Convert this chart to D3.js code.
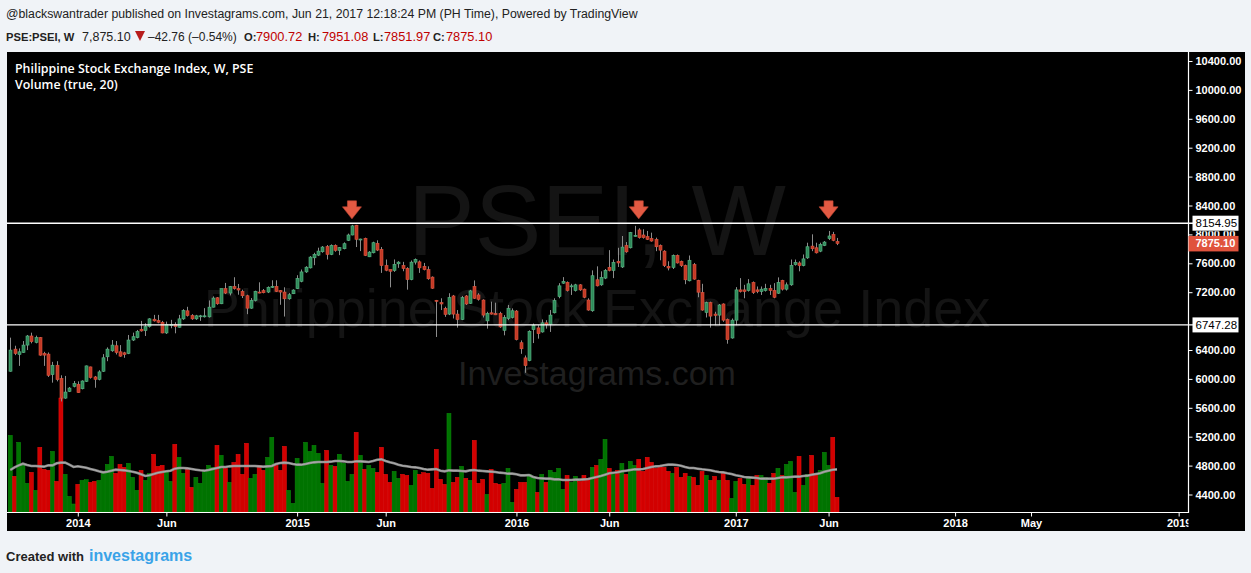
<!DOCTYPE html>
<html><head><meta charset="utf-8">
<script src="https://cdn.jsdelivr.net/npm/d3@7"></script>
<style>
html,body{margin:0;padding:0;background:#f0f3f7;}
svg{display:block;}
text{white-space:pre;}
</style></head><body>
<svg id="c" width="1251" height="573"></svg>
<script>
// ---------- DATA (weekly bars, PSE:PSEI) ----------
const firstWeek = "2013-09-16";
const lastWeek = "2017-06-19";
const opens = [6106,6412,6338,6366,6468,6594,6505,6571,6352,6343,6059,6189,6004,5734,5827,5897,5925,5864,5966,6166,
6027,5994,6106,6306,6389,6459,6375,6361,6352,6538,6571,6687,6668,6724,6826,6807,6784,6636,6738,6756,
6715,6831,6942,6877,6831,6863,6863,6859,6993,7123,7040,7249,7188,7277,7249,7212,7151,6979,7086,7202,
7221,7202,7268,7281,7221,7202,7109,7179,7249,7351,7481,7537,7676,7713,7760,7830,7723,7848,7778,7802,
7918,7992,8127,7927,7946,7690,7746,7876,7793,7569,7514,7500,7593,7569,7528,7374,7616,7620,7558,7512,
7409,7088,7055,6976,6897,7148,6897,6822,7148,7046,7279,7162,7092,6803,6915,6906,6906,6673,6836,6850,
6939,6501,6291,6254,6682,6706,6650,6776,6757,6915,7139,7325,7335,7279,7223,7302,7242,7092,6943,7372,
7302,7395,7544,7502,7628,7549,7847,7815,7978,8062,7992,7969,7945,7931,7847,7768,7558,7544,7708,7628,
7568,7358,7582,7363,7195,6920,7055,6897,6883,7037,6822,6566,6813,7232,7232,7223,7335,7232,7209,7223,
7251,7223,7186,7363,7242,7302,7582,7605,7568,7675,7838,7815,7768,7847,7941,8000,7900.72];
const highs = [6571,6459,6422,6524,6608,6640,6599,6580,6375,6366,6236,6245,6050,6041,5887,5971,5966,5980,6185,6170,
6041,6120,6343,6436,6538,6524,6468,6375,6608,6640,6677,6803,6770,6840,6886,6886,6803,6793,6817,6784,
6886,6965,6998,6896,6886,6886,6979,7086,7142,7133,7249,7328,7286,7407,7314,7235,7165,7119,7221,7337,
7244,7281,7365,7365,7230,7268,7188,7240,7435,7514,7560,7700,7746,7816,7839,7853,7862,7862,7825,7890,
8011,8132,8132,7941,7955,7769,7899,7918,7825,7653,7514,7653,7630,7620,7546,7639,7667,7639,7605,7558,
7419,7093,7116,6999,7186,7162,6953,7148,7162,7232,7363,7186,7102,6929,7069,7055,6929,6883,7023,6976,
6953,6533,6324,6673,6766,6743,6822,6813,6953,7116,7325,7409,7349,7316,7316,7312,7251,7116,7502,7558,
7489,7521,7782,7652,7815,7978,7894,8034,8118,8085,8071,8048,8024,7955,7861,7782,7628,7722,7722,7638,
7582,7708,7605,7372,7316,7069,7069,6929,7037,7046,6836,6836,7270,7395,7302,7381,7349,7279,7279,7316,
7302,7325,7405,7372,7335,7652,7652,7628,7722,7885,8001,7885,7885,7908,8048,8035,7951.08];
const lows = [6100,6329,6180,6360,6399,6492,6492,6320,6180,6027,5948,5966,5688,5725,5818,5883,5805,5855,5957,6004,
5878,5980,6097,6245,6375,6338,6306,6292,6343,6524,6561,6654,6594,6710,6793,6770,6631,6622,6701,6631,
6710,6817,6863,6817,6817,6803,6849,6849,6989,7026,7035,7174,7156,7235,7165,7119,6896,6970,7072,7184,
7184,7188,7258,7202,7026,6863,7095,7174,7244,7337,7467,7528,7574,7700,7746,7653,7713,7760,7713,7793,
7908,7987,7825,7769,7700,7686,7737,7769,7467,7490,7267,7481,7537,7490,7235,7365,7583,7467,7502,7372,
7246,6580,6953,6859,6883,6836,6710,6813,7023,7037,7106,7083,6850,6696,6890,6883,6706,6603,6813,6836,
6533,6347,6084,6244,6496,6557,6640,6696,6650,6906,7116,7316,7209,7162,7209,7218,7116,6943,6929,7279,
7288,7381,7488,7395,7549,7535,7745,7805,7969,7941,7941,7922,7899,7768,7642,7549,7502,7521,7596,7549,
7311,7349,7372,7130,6943,6850,6710,6743,6743,6790,6487,6557,6743,7195,7116,7209,7176,7186,7162,7209,
7162,7116,7176,7223,7223,7288,7568,7489,7558,7661,7768,7735,7754,7838,7922,7905,7851.97];
const closes = [6399,6352,6375,6468,6594,6515,6571,6329,6329,6050,6189,5990,5734,5818,5873,5934,5809,5971,6180,6018,
5994,6097,6292,6412,6468,6366,6315,6338,6538,6584,6654,6664,6724,6831,6803,6784,6636,6756,6756,6724,
6831,6947,6877,6831,6873,6873,6873,6993,7119,7040,7249,7188,7277,7249,7230,7151,6979,7086,7212,7193,
7193,7268,7281,7212,7202,7109,7165,7230,7388,7481,7546,7686,7723,7769,7825,7723,7848,7778,7816,7871,
7992,8118,7932,7936,7709,7755,7885,7783,7569,7504,7490,7583,7616,7528,7374,7616,7653,7537,7512,7386,
7255,7074,7037,6892,7125,6897,6822,7125,7037,7218,7116,7102,6883,6906,6897,6887,6720,6850,6976,6943,
6543,6417,6184,6659,6743,6626,6776,6752,6883,7083,7288,7349,7223,7288,7302,7232,7130,6953,7428,7288,
7405,7502,7502,7614,7605,7824,7759,8024,7987,7955,7955,7931,7908,7829,7782,7568,7535,7708,7605,7568,
7372,7642,7381,7200,6953,7055,6869,6878,7023,6813,6543,6813,7232,7209,7209,7316,7195,7209,7242,7251,
7223,7130,7335,7242,7302,7572,7614,7568,7661,7829,7801,7745,7861,7894,7978,7917.86,7875.10];
// volume (relative units)
const volumes = [230,107,209,142,86,119,65,194,128,125,182,92,342,113,47,24,83,95,97,89,
92,95,119,143,167,116,143,134,146,104,65,125,95,116,173,137,140,120,92,203,
164,116,131,74,104,86,122,140,134,200,170,131,89,149,173,113,206,101,113,140,
125,164,224,140,125,197,65,26,161,143,209,182,200,176,86,185,140,137,173,146,
92,113,239,170,128,140,131,119,194,113,89,122,101,113,110,80,125,113,118,116,
71,188,98,83,296,89,104,137,101,95,215,86,98,53,128,86,83,86,131,29,
68,89,89,113,104,59,113,89,125,119,131,68,110,89,107,92,110,101,134,140,
158,218,131,113,125,146,113,152,140,158,122,164,149,131,134,134,122,116,134,104,
116,107,104,80,122,110,95,107,95,116,95,41,92,101,83,101,80,110,110,104,
86,116,131,110,143,152,59,167,80,113,170,113,125,179,140,224,44];
// Volume MA(20) as drawn
const volumeMA = [126,134,140,145,141,138,138,137,136,140,140,146,148,148,142,135,137,135,133,129,
126,122,119,121,124,127,126,125,123,121,118,113,108,110,114,118,120,122,124,130,
132,132,131,129,127,125,124,126,129,132,135,135,137,138,138,138,138,138,138,137,
136,137,138,144,147,148,147,144,142,142,144,147,149,150,150,150,151,153,153,152,
150,150,152,152,151,150,153,157,158,153,149,146,142,139,137,135,134,132,129,127,
128,129,124,122,125,124,124,123,122,125,126,124,123,122,121,120,118,117,115,115,
113,110,110,111,105,102,101,100,100,98,98,96,96,96,97,97,98,99,102,105,
108,112,116,118,119,122,124,126,128,128,129,132,135,137,138,140,142,142,141,139,
135,132,132,130,128,127,125,122,120,119,116,114,110,108,105,104,103,102,100,100,
100,100,102,104,104,105,106,106,108,109,112,114,116,121,124,127,128];
const priceTicks = [10400,10000,9600,9200,8800,8400,8000,7600,7200,6800,6400,6000,5600,5200,4800,4400];
const timeTicks = ["2014-01-06","2014-06-02","2015-01-05","2015-06-01","2016-01-04","2016-06-06","2017-01-02","2017-06-05","2018-01-01","2018-05-07","2019-01-07"];
const timeLabels = ["2014","Jun","2015","Jun","2016","Jun","2017","Jun","2018","May","2019"];
const levels = [8154.95, 6747.28];
const lastPrice = 7875.10;
const peakBars = [81, 149, 194];
const arrowTipPrice = 8215;

// ---------- SETUP ----------
const FONT = "'Liberation Sans', Arial, sans-serif";
const svg = d3.select("#c");
const dates = d3.utcMonday.range(new Date(firstWeek+"T00:00:00Z"), d3.utcDay.offset(new Date(lastWeek+"T00:00:00Z"),1));
const parse = d3.utcParse("%Y-%m-%d");
const x = d3.scaleUtc().domain([dates[0], dates[dates.length-1]]).range([10.3, 837]);
const y = d3.scaleLinear().domain([4400, 10400]).range([494.5, 61]);
const vy = d3.scaleLinear().domain([0, d3.max(volumes)]).range([512, 398]);
const L = 7, R = 1188.5, T = 52, B = 512.5;
const BOX_H = 15;

// background panels
svg.append("rect").attr("x",7).attr("y",52).attr("width",1238).attr("height",479).attr("fill","#000");

// watermarks
const wm = svg.append("g").attr("font-family",FONT).attr("text-anchor","middle");
wm.append("text").attr("x",597).attr("y",255).attr("font-size",100).attr("fill","#141414").text("PSEI, W");
wm.append("text").attr("x",597).attr("y",327).attr("font-size",54).attr("fill","#141414").text("Philippine Stock Exchange Index");
wm.append("text").attr("x",597).attr("y",385).attr("font-size",34).attr("fill","#1f1f1f").text("Investagrams.com");

// volume bars
svg.append("g").selectAll("rect").data(volumes).join("rect")
  .attr("x",(d,i)=>x(dates[i])-2)
  .attr("width",4)
  .attr("y",d=>vy(d))
  .attr("height",d=>512-vy(d))
  .attr("fill",(d,i)=>closes[i]>=opens[i]?"#007300":"#d20000")
  .attr("stroke",(d,i)=>closes[i]>=opens[i]?"#0b8a0b":"#f01010")
  .attr("stroke-width",0.5);

// volume MA line
const maLine = d3.line().x((d,i)=>x(dates[i])).y(d=>vy(d));
svg.append("path").datum(volumeMA).attr("d", maLine)
  .attr("fill","none").attr("stroke","#8f8f8f").attr("stroke-width",2.6).attr("opacity",0.95);
svg.append("path").datum(volumeMA).attr("d", maLine)
  .attr("fill","none").attr("stroke","#b8b8b8").attr("stroke-width",0.8);

// candles
const cg = svg.append("g");
dates.forEach((dt,i)=>{
  const cx = Math.round(x(dt))+0.5;
  const up = closes[i]>=opens[i];
  cg.append("line").attr("x1",cx).attr("x2",cx).attr("y1",y(highs[i])).attr("y2",y(lows[i]))
    .attr("stroke","#8c8c8c").attr("stroke-width",1);
  const top = y(Math.max(opens[i],closes[i])), bot = y(Math.min(opens[i],closes[i]));
  cg.append("rect").attr("x",cx-1.5).attr("width",3).attr("y",top).attr("height",Math.max(1,bot-top))
    .attr("fill",up?"#2f8a5a":"#c23a26").attr("stroke",up?"#5cb888":"#e2553f").attr("stroke-width",0.6);
});

// horizontal levels
levels.forEach(v=>{
  svg.append("line").attr("x1",L).attr("x2",1193).attr("y1",y(v)).attr("y2",y(v))
    .attr("stroke","#fff").attr("stroke-width",1.4);
});

// peak arrows
peakBars.forEach(i=>{
  const cx = x(dates[i]), ty = y(arrowTipPrice);
  const p = `M${cx-4.5},${ty-18} L${cx+4.5},${ty-18} L${cx+4.5},${ty-12} L${cx+9.5},${ty-12} L${cx},${ty} L${cx-9.5},${ty-12} L${cx-4.5},${ty-12} Z`;
  svg.append("path").attr("d",p).attr("fill","#e35a43").attr("stroke","#c94a36").attr("stroke-width",0.6);
});

// legend
const lg = svg.append("g").attr("font-family","'Open Sans', sans-serif").attr("font-weight",600).attr("font-size",12.4).attr("fill","#fff");
lg.append("text").attr("x",15).attr("y",73).text("Philippine Stock Exchange Index, W, PSE");
lg.append("text").attr("x",15).attr("y",89).text("Volume (true, 20)");

// right price axis: labels fully under a price box are hidden, partly covered ones are clipped
const boxYs = levels.concat([lastPrice]).map(v=>y(v));
const visibleTicks = priceTicks.filter(t=>!boxYs.some(by=>Math.abs(y(t)-by)<4));
const ya = svg.append("g").attr("transform",`translate(${R},0)`)
  .call(d3.axisRight(y).tickValues(visibleTicks).tickFormat(d3.format(".2f")).tickSize(4).tickPadding(3));
ya.select(".domain").remove();
ya.selectAll("line").attr("stroke","#fff");
ya.selectAll("text").attr("fill","#fff").attr("font-family",FONT).attr("font-weight","bold").attr("font-size",11);
const gapTop = y(levels[0]) + BOX_H/2, gapBot = y(lastPrice) - BOX_H/2;
ya.selectAll(".tick").filter(t=>{const yy=y(t);return yy>gapTop-8&&yy<gapBot+8;})
  .each(function(t,k){
    const id = "tickclip"+k;
    svg.append("clipPath").attr("id",id).append("rect")
      .attr("x",0).attr("y",gapTop - y(t)).attr("width",60).attr("height",gapBot-gapTop);
    d3.select(this).select("text").attr("clip-path",`url(#${id})`);
  });

// bottom time axis (clipped at the price scale)
svg.append("clipPath").attr("id","xclip").append("rect").attr("x",L).attr("y",B).attr("width",R-L).attr("height",20);
const xa = svg.append("g").attr("clip-path","url(#xclip)").append("g").attr("transform",`translate(0,${B})`)
  .call(d3.axisBottom(x).tickValues(timeTicks.map(parse)).tickFormat((d,i)=>timeLabels[i]).tickSize(4).tickPadding(3));
xa.select(".domain").remove();
xa.selectAll("line").attr("stroke","#fff");
xa.selectAll("text").attr("fill","#fff").attr("font-family",FONT).attr("font-weight","bold").attr("font-size",11);

// axis lines
svg.append("line").attr("x1",R).attr("x2",R).attr("y1",T).attr("y2",B+0.5).attr("stroke","#fff").attr("stroke-width",1.2);
svg.append("line").attr("x1",L).attr("x2",R).attr("y1",B).attr("y2",B).attr("stroke","#fff").attr("stroke-width",1.2);

// level labels
levels.forEach(v=>{
  svg.append("rect").attr("x",1192.5).attr("y",y(v)-BOX_H/2).attr("width",46).attr("height",BOX_H).attr("fill","#fff");
  svg.append("text").attr("x",1195.5).attr("y",y(v)+4).attr("font-family",FONT).attr("font-size",11.5).attr("fill","#000").text(d3.format(".2f")(v));
});
svg.append("rect").attr("x",1188.5).attr("y",y(lastPrice)-BOX_H/2).attr("width",50).attr("height",BOX_H+0.5).attr("fill","#e0533d");
svg.append("text").attr("x",1195.5).attr("y",y(lastPrice)+4).attr("font-family",FONT).attr("font-weight","bold").attr("font-size",11).attr("fill","#fff").text(d3.format(".2f")(lastPrice));

// header
svg.append("text").attr("x",6).attr("y",18).attr("font-family",FONT).attr("font-size",12.3).attr("fill","#222")
  .text("@blackswantrader published on Investagrams.com, Jun 21, 2017 12:18:24 PM (PH Time), Powered by TradingView");
const hy = 41;
function piece(t, xpos, opts){
  svg.append("text").attr("x",xpos).attr("y",hy).attr("font-family",FONT).attr("font-size",opts.size||12)
    .attr("font-weight",opts.bold?"bold":"normal").attr("fill",opts.fill||"#222").text(t);
}
const prevClose = closes[closes.length-2];
const chg = lastPrice - prevClose;
piece("PSE:PSEI, W", 6, {bold:true,size:11.2});
piece(d3.format(",.2f")(lastPrice), 82, {size:12.5});
svg.append("path").attr("d",`M135,${hy-10} L145,${hy-10} L140,${hy} Z`).attr("fill","#b71c1c");
piece("\u2013"+Math.abs(chg).toFixed(2)+" (\u2013"+Math.abs(chg/prevClose*100).toFixed(2)+"%)", 148, {size:12});
const ohlc = [["O:",opens,244,256],["H:",highs,308,322],["L:",lows,373,384],["C:",closes,433,446]];
ohlc.forEach(([k,arr,kx,vx])=>{
  piece(k, kx, {bold:true,size:11.2});
  piece(d3.format(".2f")(arr[arr.length-1]), vx, {fill:"#c00000",size:12.8});
});

// footer
svg.append("text").attr("x",6).attr("y",561).attr("font-family",FONT).attr("font-weight","bold").attr("font-size",13).attr("fill","#222").text("Created with");
svg.append("text").attr("x",89).attr("y",561).attr("font-family",FONT).attr("font-weight","bold").attr("font-size",16).attr("fill","#3aa3e8").text("investagrams");
</script>
</body></html>
